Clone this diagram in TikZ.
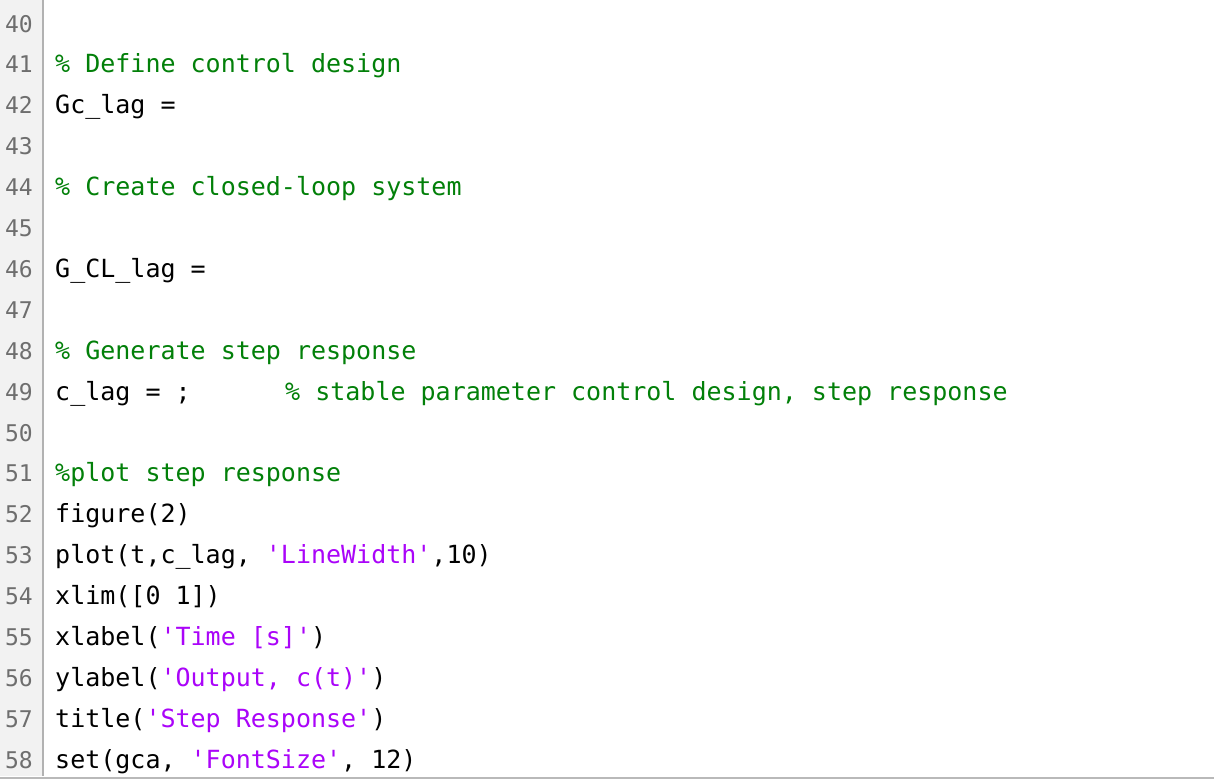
\documentclass[tikz,border=0pt]{standalone}
\usepackage{fontspec}
\setmonofont{DejaVu Sans Mono}
\definecolor{cgreen}{HTML}{028009}
\definecolor{cpurple}{HTML}{AA04F9}
\definecolor{lnum}{HTML}{6E6E6E}
\definecolor{gut}{HTML}{F2F2F2}
\begin{document}
\begin{tikzpicture}[x=1pt,y=-1pt,
  code/.style={anchor=base west,inner sep=0pt,font=\ttfamily\fontsize{25}{25}\selectfont},
  num/.style={anchor=base east,inner sep=0pt,text=lnum,font=\ttfamily\fontsize{23}{23}\selectfont}]
\useasboundingbox (0,0) rectangle (1214,780);
\fill[white] (0,0) rectangle (1214,780);
\fill[gut] (0,0) rectangle (42,776);
\draw[line width=2pt,gray!60] (43,0) -- (43,776);
\draw[line width=2pt,gray!55] (0,777.5) -- (1214,777.5);
\foreach \n [count=\i from 0] in {40,...,58}
  \node[num] (n\n) at (33,{32+40.9*\i}) {\n};
\def\L#1{32+40.9*(#1-40)}
\node[code,text=cgreen] (l41) at (55,{\L{41}}) {\% Define control design};
\node[code] (l42) at (55,{\L{42}}) {Gc\_lag =};
\node[code,text=cgreen] (l44) at (55,{\L{44}}) {\% Create closed-loop system};
\node[code] (l46) at (55,{\L{46}}) {G\_CL\_lag =};
\node[code,text=cgreen] (l48) at (55,{\L{48}}) {\% Generate step response};
\node[code] (l49) at (55,{\L{49}}) {c\_lag = ;};
\node[code,text=cgreen] (l49c) at (285,{\L{49}}) {\% stable parameter control design, step response};
\node[code,text=cgreen] (l51) at (55,{\L{51}}) {\%plot step response};
\node[code] (l52) at (55,{\L{52}}) {figure(2)};
\node[code] (l53) at (55,{\L{53}}) {plot(t,c\_lag, \textcolor{cpurple}{'LineWidth'},10)};
\node[code] (l54) at (55,{\L{54}}) {xlim([0 1])};
\node[code] (l55) at (55,{\L{55}}) {xlabel(\textcolor{cpurple}{'Time [s]'})};
\node[code] (l56) at (55,{\L{56}}) {ylabel(\textcolor{cpurple}{'Output, c(t)'})};
\node[code] (l57) at (55,{\L{57}}) {title(\textcolor{cpurple}{'Step Response'})};
\node[code] (l58) at (55,{\L{58}}) {set(gca, \textcolor{cpurple}{'FontSize'}, 12)};
\end{tikzpicture}
\end{document}
